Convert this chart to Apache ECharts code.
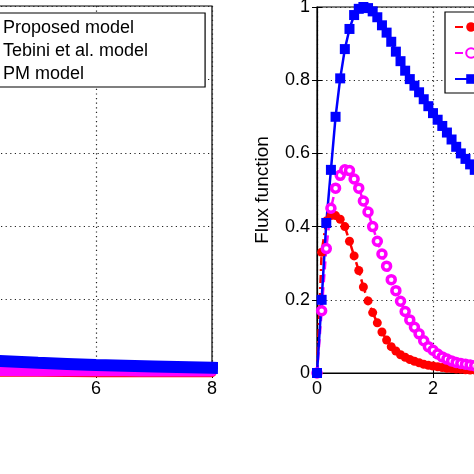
<!DOCTYPE html>
<html>
<head>
<meta charset="utf-8">
<script src="https://cdn.jsdelivr.net/npm/echarts@6.0.0/dist/echarts.min.js"></script>
<style>
    html, body {margin: 0; padding: 0; background: #fff;}
    #chart {width: 474px; height: 474px;}
</style>
</head>
<body>
<div id="chart"></div>
<script>
// 图例名称
var names = ['Proposed model', 'Tebini et al. model', 'PM model'];

// 右图: 横坐标与三条曲线
var xs = [0, 0.08, 0.16, 0.24, 0.32, 0.40, 0.48, 0.56, 0.64, 0.72, 0.80, 0.88, 0.96, 1.04, 1.12, 1.20,
    1.28, 1.36, 1.44, 1.52, 1.60, 1.68, 1.76, 1.84, 1.92, 2.00, 2.08, 2.16, 2.24, 2.32, 2.40, 2.48,
    2.56, 2.64, 2.72, 2.80, 2.88];
var proposed = [0, 0.33, 0.415, 0.43, 0.43, 0.42, 0.40, 0.36, 0.32, 0.28, 0.235, 0.197, 0.165, 0.137, 0.112, 0.09,
    0.072, 0.06, 0.05, 0.043, 0.037, 0.032, 0.028, 0.024, 0.021, 0.019, 0.017, 0.015, 0.013, 0.012, 0.011, 0.010,
    0.009, 0.008, 0.008, 0.007, 0.006];
var tebini = [0, 0.17, 0.34, 0.45, 0.505, 0.54, 0.555, 0.553, 0.53, 0.505, 0.47, 0.44, 0.40, 0.36, 0.325, 0.292,
    0.255, 0.225, 0.196, 0.168, 0.145, 0.125, 0.107, 0.088, 0.072, 0.062, 0.052, 0.044, 0.038, 0.033, 0.029, 0.026,
    0.024, 0.022, 0.02, 0.018, 0.016];
var pm = [0, 0.20, 0.41, 0.555, 0.70, 0.805, 0.885, 0.94, 0.978, 0.995, 1.0, 0.997, 0.988, 0.972, 0.95, 0.93,
    0.905, 0.878, 0.852, 0.826, 0.803, 0.785, 0.767, 0.748, 0.729, 0.71, 0.692, 0.675, 0.657, 0.638, 0.618, 0.60,
    0.585, 0.57, 0.555, 0.54, 0.526];

// 左图: 只看得到右半部分
var leftXs = [4, 5, 6, 7, 8];
var leftProposed = [0.002, 0.002, 0.001, 0.001, 0.001];
var leftTebini = [0.006, 0.005, 0.005, 0.004, 0.004];
var leftPm = [0.035, 0.028, 0.022, 0.018, 0.014];

// 坐标轴刻度
var xTicks = {min: 0, max: 8, interval: 2};
var yTicks = {min: 0, max: 1, interval: 0.2};

var font = 'Liberation Sans, Arial, Helvetica, sans-serif';

function pairs(x, y) {
    return x.map(function (v, i) {
        return [v, y[i]];
    });
}

// 主坐标轴
function mainAxis(ticks, grid, pos, extra) {
    var ax = {
        type: 'value',
        gridIndex: grid,
        position: pos,
        min: ticks.min,
        max: ticks.max,
        interval: ticks.interval,
        axisLine: {show: true, onZero: false, lineStyle: {color: '#000', width: 1.2}},
        axisTick: {show: true, inside: true, length: 5, lineStyle: {color: '#000'}},
        axisLabel: {color: '#000', fontSize: 18, fontFamily: font, margin: 7},
        splitLine: {show: true, lineStyle: {color: '#222', width: 1.2, type: [1.2, 3.4]}}
    };
    for (var k in extra) ax[k] = extra[k];
    return ax;
}

// 镜像刻度 (上边、右边)
function mirrorAxis(ticks, grid, pos) {
    return {
        type: 'value',
        gridIndex: grid,
        position: pos,
        min: ticks.min,
        max: ticks.max,
        interval: ticks.interval,
        axisLine: {show: false},
        axisTick: {show: true, inside: true, length: 5, lineStyle: {color: '#000'}},
        axisLabel: {show: false},
        splitLine: {show: false}
    };
}

var legendBase = {
    data: names,
    orient: 'vertical',
    itemWidth: 32,
    itemHeight: 12,
    backgroundColor: '#fff',
    borderColor: '#000',
    borderWidth: 1.2,
    borderRadius: 0,
    selectedMode: false,
    textStyle: {color: '#000', fontSize: 18, fontFamily: font, lineHeight: 18}
};

var option = {
    animation: false,
    backgroundColor: '#fff',
    grid: [
        {left: -252, top: 6, width: 464, height: 367, outerBoundsMode: 'none', containLabel: false,
            show: true, borderColor: '#000', borderWidth: 1.2},
        {left: 317, top: 7, width: 464, height: 366, outerBoundsMode: 'none', containLabel: false,
            show: true, borderColor: '#000', borderWidth: 1.2}
    ],
    xAxis: [
        mainAxis(xTicks, 0, 'bottom', {}),
        mirrorAxis(xTicks, 0, 'top'),
        mainAxis(xTicks, 1, 'bottom', {}),
        mirrorAxis(xTicks, 1, 'top')
    ],
    yAxis: [
        mainAxis(yTicks, 0, 'left', {}),
        mirrorAxis(yTicks, 0, 'right'),
        mainAxis(yTicks, 1, 'left', {
            name: 'Flux function',
            nameLocation: 'middle',
            nameGap: 45,
            nameTextStyle: {color: '#000', fontSize: 19, fontFamily: font}
        }),
        mirrorAxis(yTicks, 1, 'right')
    ],
    legend: [
        Object.assign({}, legendBase, {left: -40, top: 13, padding: [6, 57, 4, 5], itemGap: 5}),
        Object.assign({}, legendBase, {left: 445, top: 12, padding: [6, 12, 5, 9], itemGap: 8})
    ],
    series: [
        // 右图
        {
            name: names[0], type: 'line', xAxisIndex: 2, yAxisIndex: 2, clip: false,
            data: pairs(xs, proposed),
            symbol: 'circle', symbolSize: 9,
            itemStyle: {color: '#ff0000'},
            lineStyle: {color: '#ff0000', width: 2.5, type: [8, 4, 2, 4]}
        },
        {
            name: names[1], type: 'line', xAxisIndex: 2, yAxisIndex: 2, clip: false,
            data: pairs(xs, tebini),
            symbol: 'circle', symbolSize: 8,
            itemStyle: {color: '#ffffff', borderColor: '#ff00ff', borderWidth: 3.5},
            lineStyle: {color: '#ff00ff', width: 2.5, type: [8, 5]}
        },
        {
            name: names[2], type: 'line', xAxisIndex: 2, yAxisIndex: 2, clip: false,
            data: pairs(xs, pm),
            symbol: 'rect', symbolSize: 10,
            itemStyle: {color: '#0000ff'},
            lineStyle: {color: '#0000ff', width: 2.5}
        },
        // 左图
        {
            name: names[0], type: 'line', xAxisIndex: 0, yAxisIndex: 0, clip: false,
            data: pairs(leftXs, leftProposed), showSymbol: false,
            lineStyle: {color: '#ff0000', width: 9, cap: 'round'}
        },
        {
            name: names[1], type: 'line', xAxisIndex: 0, yAxisIndex: 0, clip: false,
            data: pairs(leftXs, leftTebini), showSymbol: false, smooth: true,
            lineStyle: {color: '#ff00ff', width: 10, cap: 'round'}
        },
        {
            name: names[2], type: 'line', xAxisIndex: 0, yAxisIndex: 0, clip: false,
            data: pairs(leftXs, leftPm), showSymbol: false, smooth: true,
            lineStyle: {color: '#0000ff', width: 12, cap: 'square'}
        }
    ]
};

var myChart = echarts.init(document.getElementById('chart'));
myChart.setOption(option);
</script>
</body>
</html>
